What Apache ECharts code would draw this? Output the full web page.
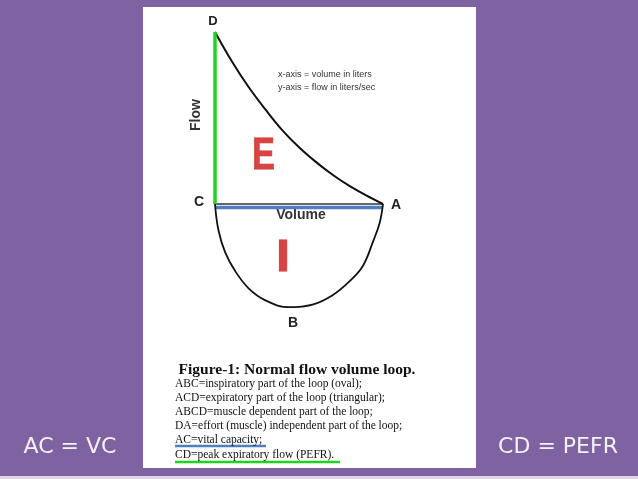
<!DOCTYPE html>
<html><head><meta charset="utf-8">
<script src="https://cdn.jsdelivr.net/npm/echarts@6/dist/echarts.min.js"></script>
<style>html,body{margin:0;padding:0;background:#7F62A1}#c{width:638px;height:479px}</style>
</head><body><div id="c"></div>
<script>
// Volume (L) vs flow (L/s) readings
const expiratoryDA = [[0,10],[0.5,8.3],[1.0,6.8],[1.5,5.5],[2.0,4.3],[2.5,3.3],[3.0,2.45],[3.5,1.7],[4.0,1.05],[4.5,0.5],[5,0]];
const inspiratoryABC = [[0,0],[0.1,-1.5],[0.3,-2.8],[0.6,-3.9],[1.0,-4.9],[1.5,-5.6],[2.2,-6.0],[2.9,-5.85],[3.5,-5.3],[4.0,-4.5],[4.4,-3.6],[4.7,-2.2],[4.9,-1.1],[5,0]];
const lineCA = [[0,0],[5,0]];
const vitalCapacityAC = [[0,-0.2],[5,-0.2]];
const peakFlowCD = [[0,0],[0,10]];
const pointLabels = ['D','C','A','B'];
const captionTitle = 'Figure-1: Normal flow volume loop.';
const captionLines = [
  'ABC=inspiratory part of the loop (oval);',
  'ACD=expiratory part of the loop (triangular);',
  'ABCD=muscle dependent part of the loop;',
  'DA=effort (muscle) independent part of the loop;',
  'AC=vital capacity;',
  'CD=peak expiratory flow (PEFR).'
];
const axisNotes = ['x-axis = volume in liters','y-axis = flow in liters/sec'];
const sideLabels = ['AC = VC','CD = PEFR'];

const chart = echarts.init(document.getElementById('c'));
const sans = '"Liberation Sans", Arial, sans-serif';
const serif = '"Liberation Serif", "Times New Roman", serif';
const capY = [384, 398, 412, 426, 440, 455];
const g = [
  {type:'rect', z:-10, shape:{x:0,y:0,width:638,height:479}, style:{fill:'#7F62A1'}},
  {type:'rect', z:-9, shape:{x:0,y:476,width:638,height:3}, style:{fill:'#DCD6E4'}},
  {type:'rect', z:-8, shape:{x:143,y:7,width:333,height:461}, style:{fill:'#FFFFFF'}},
  {type:'text', x:213, y:21, style:{text:pointLabels[0], font:'bold 13px '+sans, fill:'#222', align:'center', verticalAlign:'middle'}},
  {type:'text', x:199, y:202, style:{text:pointLabels[1], font:'bold 14px '+sans, fill:'#222', align:'center', verticalAlign:'middle'}},
  {type:'text', x:396, y:205, style:{text:pointLabels[2], font:'bold 14px '+sans, fill:'#222', align:'center', verticalAlign:'middle'}},
  {type:'text', x:293, y:323, style:{text:pointLabels[3], font:'bold 14px '+sans, fill:'#222', align:'center', verticalAlign:'middle'}},
  {type:'text', x:301, y:215, style:{text:'Volume', font:'bold 14px '+sans, fill:'#333', align:'center', verticalAlign:'middle'}},
  {type:'text', x:196, y:115, rotation:Math.PI/2, style:{text:'Flow', font:'bold 14px '+sans, fill:'#333', align:'center', verticalAlign:'middle'}},
  {type:'text', x:278, y:75, style:{text:axisNotes[0], font:'9px '+sans, fill:'#333', align:'left', verticalAlign:'middle'}},
  {type:'text', x:278, y:88, style:{text:axisNotes[1], font:'9px '+sans, fill:'#333', align:'left', verticalAlign:'middle'}},
  {type:'text', x:263.5, y:157, scaleX:0.78, originX:0, originY:0, style:{text:'E', font:'bold 44px '+sans, align:'center', verticalAlign:'middle',
     fill:'#D94442', stroke:'#B83232', lineWidth:0.8, shadowColor:'rgba(120,0,0,0.35)', shadowBlur:2, shadowOffsetY:1}},
  {type:'text', x:283, y:259, scaleX:1.15, style:{text:'I', font:'bold 44px '+sans, align:'center', verticalAlign:'middle',
     fill:'#D94442', stroke:'#B83232', lineWidth:0.8, shadowColor:'rgba(120,0,0,0.35)', shadowBlur:2, shadowOffsetY:1}},
  {type:'text', x:297, y:370, style:{text:captionTitle, font:'bold 15.5px '+serif, fill:'#111', align:'center', verticalAlign:'middle'}},
  {type:'line', shape:{x1:175,y1:446,x2:266,y2:446}, style:{stroke:'#4F7FC0', lineWidth:2.5}},
  {type:'line', shape:{x1:175,y1:462,x2:340,y2:462}, style:{stroke:'#1ED41E', lineWidth:2.5}},
  {type:'text', x:70, y:447, style:{text:sideLabels[0], font:'22px "DejaVu Sans", sans-serif', fill:'#F4F2F7', align:'center', verticalAlign:'middle'}},
  {type:'text', x:558, y:447, style:{text:sideLabels[1], font:'22px "DejaVu Sans", sans-serif', fill:'#F4F2F7', align:'center', verticalAlign:'middle'}}
];
captionLines.forEach((t,i)=>g.push({type:'text', x:175, y:capY[i], style:{text:t, font:'11.5px '+serif, fill:'#111', align:'left', verticalAlign:'middle'}}));

chart.setOption({
  animation:false,
  backgroundColor:'#7F62A1',
  graphic:g,
  grid:{left:215, top:32, width:168, height:275.2},
  xAxis:{type:'value', min:0, max:5, show:false},
  yAxis:{type:'value', min:-6, max:10, show:false},
  series:[
    {type:'line', data:lineCA, symbol:'none', lineStyle:{color:'#333', width:1.5}, z:2},
    {type:'line', data:vitalCapacityAC, symbol:'none', lineStyle:{color:'#4F7FC0', width:3.5}, z:3},
    {type:'line', data:expiratoryDA, symbol:'none', smooth:0.4, lineStyle:{color:'#111', width:2}, z:3},
    {type:'line', data:inspiratoryABC, symbol:'none', smooth:0.4, lineStyle:{color:'#111', width:1.8}, z:3},
    {type:'line', data:peakFlowCD, symbol:'none', lineStyle:{color:'#1ED41E', width:3.5}, z:4}
  ]
});
</script></body></html>
